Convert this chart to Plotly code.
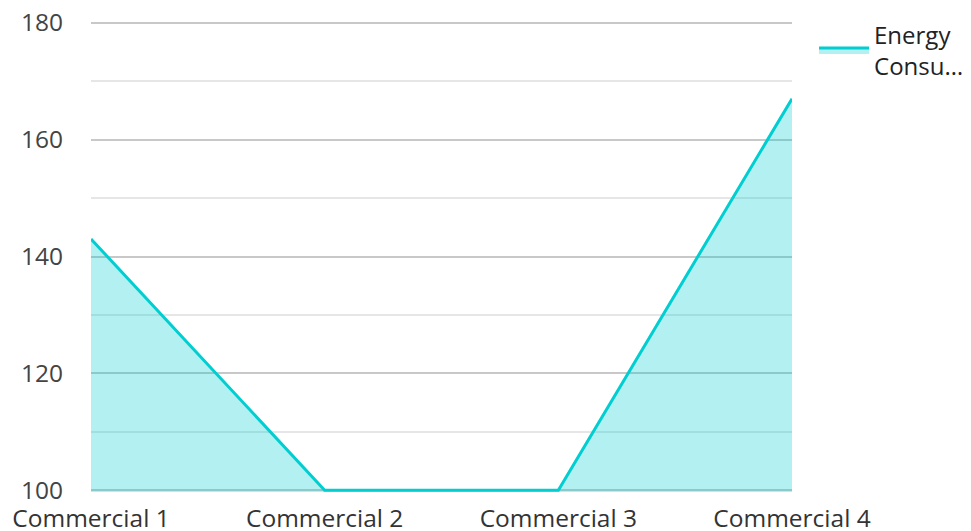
import plotly.graph_objects as go

categories = ["Commercial 1", "Commercial 2", "Commercial 3", "Commercial 4"]
energy = [143, 100, 100, 167]
series_name = "Energy<br>Consu…"
y_ticks = [100, 120, 140, 160, 180]

fig = go.Figure()
fig.add_trace(go.Scatter(
    x=categories, y=energy, name=series_name, mode="lines",
    line=dict(color="#00CED1", width=3),
    fill="tozeroy", fillcolor="rgba(0,206,209,0.3)",
))

# page body has an 8px margin, so the figure is drawn 8px in and sized to fit
fig.update_layout(
    width=963, height=523,
    margin=dict(l=83, r=179, t=13, b=39),
    paper_bgcolor="white", plot_bgcolor="white",
    font=dict(family="Open Sans", size=24.5, color="#444"),
    showlegend=True,
    legend=dict(xref="container", yref="container", x=0.837, y=0.992,
                xanchor="left", yanchor="top",
                font=dict(size=24, color="#222"), itemwidth=50,
                tracegroupgap=0),
    xaxis=dict(type="category", range=[0, 3], showgrid=False, automargin=False,
               showline=False, ticks="", ticklabelstandoff=9,
               tickfont=dict(size=24.5, color="#333")),
    yaxis=dict(range=[99.7, 180.3], tickvals=y_ticks, showgrid=True,
               gridcolor="#c8c8c8", gridwidth=1.5, zeroline=False, automargin=False,
               ticks="", ticklabelstandoff=27, ticklabeloverflow="allow",
               minor=dict(dtick=10, tick0=100, showgrid=True, gridcolor="#e6e6e6", gridwidth=1.5)),
)

fig.write_html("out.html")
